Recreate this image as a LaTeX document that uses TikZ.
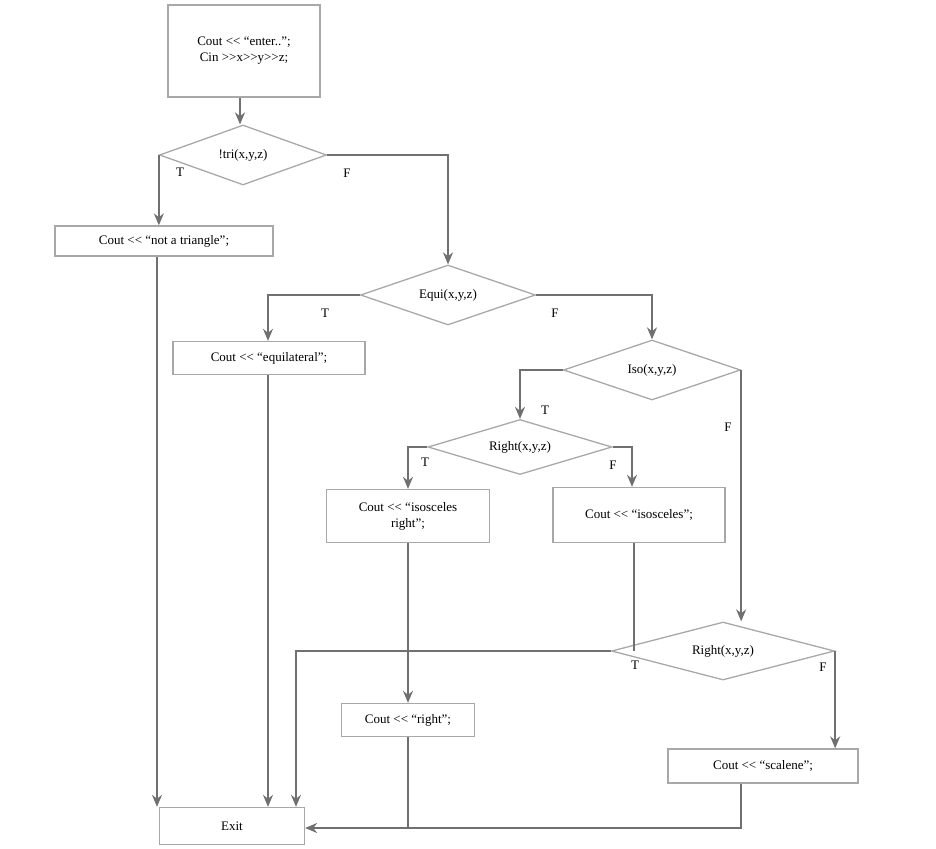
\documentclass[tikz,border=0pt]{standalone}
\usepackage{fontspec}
\setmainfont{Liberation Serif}[Ligatures=NoCommon]
\usetikzlibrary{shapes.geometric,arrows.meta}
\definecolor{ln}{HTML}{707070}
\definecolor{bd}{HTML}{A8A8A8}
\newcommand{\myll}{<{}<}
\newcommand{\mygg}{>{}>}
\begin{document}
\begin{tikzpicture}[x=1pt,y=-1pt,
  every node/.style={font=\fontsize{13}{16}\selectfont},
  box/.style={draw=bd,line width=1.3pt,inner sep=0pt,align=center},
  dia/.style={draw=bd,line width=1.3pt,diamond,inner sep=0pt,aspect=3},
  lbl/.style={font=\fontsize{13}{16}\selectfont},
  ar/.style={draw=ln,line width=1.6pt,-{Stealth[length=12pt,width=10pt]}},
  ln/.style={draw=ln,line width=1.6pt}]
\useasboundingbox (0,0) rectangle (936,848);
\node[box,minimum width=152pt,minimum height=92pt] (b1) at (244,51) {Cout \myll{} “enter..”;\\Cin \mygg{}x\mygg{}y\mygg{}z;};
\node[dia,minimum width=167pt,minimum height=60pt] (d1) at (243,155) {!tri(x,y,z)};
\node[box,minimum width=218pt,minimum height=30pt] (b2) at (164,241) {Cout \myll{} “not a triangle”;};
\node[dia,minimum width=175pt,minimum height=60pt] (d2) at (448,295) {Equi(x,y,z)};
\node[box,minimum width=192pt,minimum height=33pt] (b3) at (269,358) {Cout \myll{} “equilateral”;};
\node[dia,minimum width=177pt,minimum height=60pt] (d3) at (652,370) {Iso(x,y,z)};
\node[dia,minimum width=184pt,minimum height=55pt] (d4) at (520,447) {Right(x,y,z)};
\node[box,minimum width=163pt,minimum height=53pt] (b4) at (408,516) {Cout \myll{} “isosceles\\right”;};
\node[box,minimum width=172pt,minimum height=55pt] (b5) at (639,515) {Cout \myll{} “isosceles”;};
\node[dia,minimum width=223pt,minimum height=58pt] (d5) at (723,651) {Right(x,y,z)};
\node[box,minimum width=133pt,minimum height=33pt] (b6) at (408,720) {Cout \myll{} “right”;};
\node[box,minimum width=190pt,minimum height=34pt] (b7) at (763,766) {Cout \myll{} “scalene”;};
\node[box,minimum width=145pt,minimum height=37pt] (ex) at (232,826) {Exit};
\coordinate (j5) at (634,651);
\coordinate (jb) at (408,828);
\draw[ar] (b1.south -| 240,0) -- (d1.north -| 240,0);
\draw[ar] (d1.west) -- (b2.north -| d1.west);
\draw[ar] (d1.east) -| (d2.north);
\draw[ar] (b2.south -| 157,0) -- (ex.north -| 157,0);
\draw[ar] (d2.west) -| (b3.north -| 268,0);
\draw[ar] (d2.east) -| (d3.north);
\draw[ar] (b3.south -| 268,0) -- (ex.north -| 268,0);
\draw[ar] (d3.west) -| (d4.north);
\draw[ar] (d3.east) -- (d5.north -| d3.east);
\draw[ar] (d4.west) -| (b4.north);
\draw[ar] (d4.east) -| (b5.north -| 632,0);
\draw[ar] (b4.south) -- (b6.north);
\draw[ln] (b5.south -| j5) -- (j5);
\draw[ar] (d5.west) -| (ex.north -| 296,0);
\draw[ar] (d5.east) -- (b7.north -| d5.east);
\draw[ln] (b6.south) -- (jb);
\draw[ar] (b7.south -| 741,0) |- (ex.east |- jb);
\node[lbl] (t1) at (180,172) {T};
\node[lbl] (f1) at (347,173) {F};
\node[lbl] (t2) at (325,313) {T};
\node[lbl] (f2) at (555,313) {F};
\node[lbl] (t3) at (545,410) {T};
\node[lbl] (f3) at (728,427) {F};
\node[lbl] (t4) at (425,462) {T};
\node[lbl] (f4) at (613,465) {F};
\node[lbl] (t5) at (635,665) {T};
\node[lbl] (f5) at (823,667) {F};
\end{tikzpicture}
\end{document}
